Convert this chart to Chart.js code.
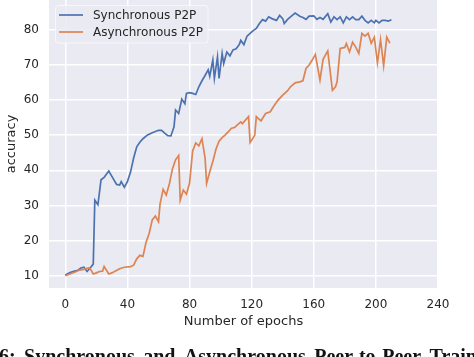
<!DOCTYPE html>
<html><head><meta charset="utf-8">
<script src="https://cdn.jsdelivr.net/npm/chart.js@4"></script>
<style>
html,body{margin:0;padding:0;background:#fff;overflow:hidden;width:474px;height:357px;}
canvas{display:block;}
</style></head><body>
<canvas id="c" width="474" height="357"></canvas>
<script>
const seriesNames = ['Synchronous P2P', 'Asynchronous P2P'];
const captionText = '6: Synchronous and Asynchronous Peer-to-Peer Training';
const xTicks = [0, 40, 80, 120, 160, 200, 240];
const yTicks = [10, 20, 30, 40, 50, 60, 70, 80];

const syncEpochs = [0,3,6,8,10,12,14,16,18,19,21,23,25,28,30,33,35,36,38,40,42,44,46,48,50,53,56,60,62,64,66,68,70,71,73,75,77,78,80,82,84,86,88,90,92,93,95,96,98,99,101,102,104,106,108,110,112,113,115,117,119,121,123,125,127,129,131,133,136,138,140,141,143,145,148,151,153,155,157,160,162,164,166,169,171,173,175,177,179,181,183,185,187,189,191,193,195,197,199,200,202,204,206,208,210];
const syncAcc = [10.2,10.9,11.3,11.5,12.2,12.4,11.2,12.2,13.3,31.5,30.2,37.3,38.0,39.8,38.3,36.0,35.8,36.8,35.2,36.8,39.5,43.5,46.7,48.0,49.0,50.1,50.7,51.4,51.4,50.6,49.9,49.8,52.4,57.2,56.2,60.3,59.0,61.9,62.1,61.9,61.6,63.8,65.5,67.0,68.6,66.8,71.4,66.2,72.3,66.2,73.3,70.4,73.7,72.6,74.3,74.6,75.8,77.0,75.8,78.2,79.0,79.8,80.4,81.8,82.9,82.5,83.7,83.2,82.7,84.1,83.2,81.8,82.9,83.7,84.8,83.9,83.5,83.0,83.9,84.0,83.0,83.5,83.0,84.6,82.2,83.7,82.9,83.7,82.0,83.7,82.9,83.7,82.9,82.9,83.9,82.7,82.0,82.7,82.0,82.7,82.0,82.7,82.7,82.5,82.9];

const asyncEpochs = [0,3,6,9,12,15,16,18,20,22,24,25,28,30,32,35,38,42,44,46,48,50,52,54,56,58,60,61,63,65,67,69,71,73,74,76,78,80,82,84,86,88,90,91,93,95,97,99,101,103,105,107,109,111,113,114,116,118,119,122,123,126,129,132,134,137,140,143,145,148,151,153,155,157,159,161,164,166,169,172,174,175,177,180,181,183,185,187,189,191,193,195,197,199,201,203,205,207,209];
const asyncAcc = [10.0,10.5,11.0,11.6,11.8,12.2,12.0,10.5,10.8,11.2,11.3,12.6,10.5,10.8,11.3,12.0,12.4,12.6,13.0,14.8,15.8,15.5,19.5,22.0,25.9,27.0,25.4,30.4,34.6,33.0,36.1,40.4,43.0,44.2,31.5,34.4,33.2,36.3,45.5,47.8,47.0,49.0,43.5,36.3,39.5,42.5,46.0,48.3,49.3,50.1,51.0,52.0,52.2,53.0,53.8,53.3,54.3,55.3,47.9,50.0,55.3,54.1,56.2,56.7,58.1,60.0,61.4,62.6,63.8,64.9,65.2,65.5,69.0,70.0,71.4,73.0,65.7,71.6,74.0,62.8,63.8,65.2,74.7,75.0,76.1,73.7,76.5,75.1,73.3,79.0,78.2,79.0,76.2,77.9,70.6,77.2,69.8,77.9,76.2];

const colors = ['#4c72b0', '#dd8452'];
const TXT = '#262626';
Chart.defaults.font.family = "'DejaVu Sans'";
Chart.defaults.color = TXT;

const toPts = (xs, ys) => xs.map((x, i) => ({x: x, y: ys[i]}));

const bgPlugin = {
  id: 'bg',
  beforeDraw(chart) {
    const {ctx, chartArea: a} = chart;
    ctx.save();
    ctx.fillStyle = '#eaeaf2';
    ctx.fillRect(a.left, a.top, a.right - a.left, a.bottom - a.top);
    ctx.restore();
  }
};

const legendPlugin = {
  id: 'mplLegend',
  afterDraw(chart) {
    const ctx = chart.ctx;
    ctx.save();
    const x = 55.5, y = 5.5, w = 152.5, h = 37.5, r = 3;
    ctx.beginPath();
    ctx.moveTo(x + r, y);
    ctx.lineTo(x + w - r, y); ctx.quadraticCurveTo(x + w, y, x + w, y + r);
    ctx.lineTo(x + w, y + h - r); ctx.quadraticCurveTo(x + w, y + h, x + w - r, y + h);
    ctx.lineTo(x + r, y + h); ctx.quadraticCurveTo(x, y + h, x, y + h - r);
    ctx.lineTo(x, y + r); ctx.quadraticCurveTo(x, y, x + r, y);
    ctx.closePath();
    ctx.fillStyle = 'rgba(234,234,242,0.85)';
    ctx.fill();
    ctx.strokeStyle = 'rgba(248,248,252,0.9)';
    ctx.lineWidth = 1;
    ctx.stroke();
    const rows = [15, 32];
    ctx.font = "12px 'DejaVu Sans'";
    ctx.textBaseline = 'middle';
    ctx.textAlign = 'left';
    seriesNames.forEach((name, i) => {
      ctx.strokeStyle = colors[i];
      ctx.lineWidth = 1.7;
      ctx.beginPath();
      ctx.moveTo(59, rows[i]);
      ctx.lineTo(83, rows[i]);
      ctx.stroke();
      ctx.fillStyle = TXT;
      ctx.fillText(name, 93, rows[i] + 0.5);
    });
    // cropped figure caption below the plot
    ctx.font = "bold 20px 'Liberation Serif'";
    ctx.textBaseline = 'alphabetic';
    ctx.fillStyle = '#111111';
    if ('wordSpacing' in ctx) ctx.wordSpacing = '3.4px';
    ctx.fillText(captionText, -1, 362.5);
    ctx.restore();
  }
};

new Chart(document.getElementById('c'), {
  type: 'line',
  data: {
    datasets: [
      {label: seriesNames[0], data: toPts(syncEpochs, syncAcc), borderColor: colors[0], backgroundColor: colors[0], borderWidth: 1.7, pointRadius: 0, tension: 0, order: 1},
      {label: seriesNames[1], data: toPts(asyncEpochs, asyncAcc), borderColor: colors[1], backgroundColor: colors[1], borderWidth: 1.7, pointRadius: 0, tension: 0, order: 0}
    ]
  },
  options: {
    responsive: false,
    devicePixelRatio: 1,
    animation: false,
    layout: {padding: {left: 0, right: 36, top: 0, bottom: 28}},
    plugins: {legend: {display: false}, tooltip: {enabled: false}, title: {display: false}},
    scales: {
      x: {
        type: 'linear', min: -10.5, max: 240,
        border: {display: false},
        grid: {color: '#ffffff', lineWidth: 1.5, drawTicks: false},
        ticks: {font: {size: 12}, color: TXT, padding: 10, autoSkip: false, maxRotation: 0},
        title: {display: true, text: 'Number of epochs', font: {size: 13}, color: TXT, padding: {top: 0, bottom: 0}},
        afterBuildTicks: s => { s.ticks = xTicks.map(v => ({value: v})); },
        afterFit: s => { s.height = 41; s.paddingLeft = 0; s.paddingRight = 0; }
      },
      y: {
        type: 'linear', min: 6.5, max: 88.5,
        border: {display: false},
        grid: {color: '#ffffff', lineWidth: 1.5, drawTicks: false},
        ticks: {font: {size: 12}, color: TXT, padding: 10},
        title: {display: true, text: 'accuracy', font: {size: 13}, color: TXT, padding: {top: 4, bottom: 0}},
        afterBuildTicks: s => { s.ticks = yTicks.map(v => ({value: v})); },
        afterFit: s => { s.width = 49; s.paddingTop = 0; s.paddingBottom = 0; }
      }
    }
  },
  plugins: [bgPlugin, legendPlugin]
});
</script>
</body></html>
